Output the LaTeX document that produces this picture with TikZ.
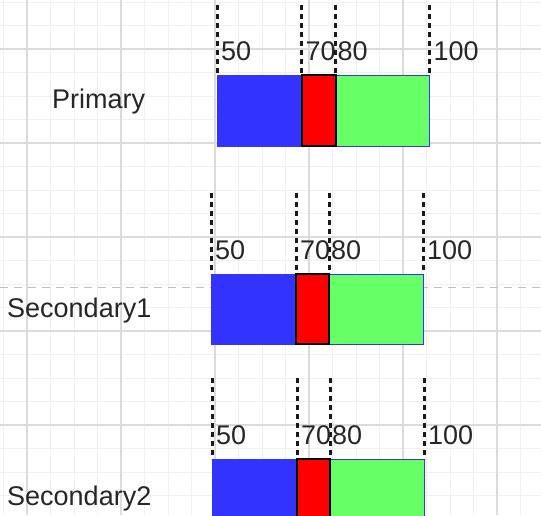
\documentclass[tikz,border=0pt]{standalone}
\usepackage{fontspec}
\setmainfont{Liberation Sans}
\begin{document}
\begin{tikzpicture}[x=1pt,y=-1pt,
  minorgrid/.style={draw=black!6,line width=1},
  majorgrid/.style={draw=black!14,line width=1.2},
  guide/.style={draw=black!25,line width=1,dash pattern=on 8 off 6},
  tick/.style={draw=black!90,line width=3,dash pattern=on 5 off 4},
  seg/.style={anchor=north west,inner sep=0,outer sep=0,minimum height=#1},
  bluebox/.style={fill=blue!80,draw=blue!80!white,line width=1},
  greenbox/.style={fill=green!60!white,draw=blue!80!white,line width=1},
  redbox/.style={fill=red,draw=black,line width=2},
  num/.style={anchor=base west,inner sep=0,text=black!85,font=\fontsize{27}{30}\selectfont},
  rowlabel/.style={anchor=base west,inner sep=0,text=black!85,font=\fontsize{27}{30}\selectfont}]
\useasboundingbox (0,0) rectangle (541,515);
\clip (0,0) rectangle (541,515);
\fill[white] (0,0) rectangle (541,515);
% grid
\foreach \i in {0,...,23} {
  \draw[minorgrid] (3.5+23.5*\i,0) -- (3.5+23.5*\i,515);
  \draw[minorgrid] (0,2+23.5*\i) -- (541,2+23.5*\i);
}
\foreach \i in {0,...,5} {
  \draw[majorgrid] (27+94*\i,0) -- (27+94*\i,515);
  \draw[majorgrid] (0,49+94*\i) -- (541,49+94*\i);
}
\coordinate (gl) at (0,287);
\coordinate (gr) at (541,287);
\draw[guide] (gl) -- (gr);
% row builder
\newcommand\mkrow[9]{%
  % #1 name, #2 x50, #3 x70, #4 x80, #5 x100, #6 top, #7 bottom, #8 dash top, #9 baseline
  \node[seg={#7-#6},minimum width={#3-#2},bluebox] (#1b) at (#2,#6) {};
  \node[seg={#7-#6},minimum width={#5-#4},greenbox] (#1g) at (#4,#6) {};
  \node[seg={#7-#6},minimum width={#4-#3},redbox] (#1r) at (#3,#6) {};
  \coordinate (#1t50) at (#2,#8);
  \coordinate (#1t70) at (#3,#8);
  \coordinate (#1t80) at (#4,#8);
  \coordinate (#1t100) at (#5,#8);
  \draw[tick] (#1t50) -- (#1b.north west);
  \draw[tick] (#1t70) -- (#1r.north west);
  \draw[tick] (#1t80) -- (#1r.north east);
  \draw[tick] (#1t100) -- (#1g.north east);
  \node[num] (#1n50) at (#2+4,#9) {50};
  \node[num] (#1n70) at (#3+4,#9) {70};
  \node[num] (#1n80) at (#4+2,#9) {80};
  \node[num] (#1n100) at (#5+4,#9) {100};
}
\mkrow{p}{217}{301.5}{335.5}{429.5}{75}{146}{5}{60}
\mkrow{s}{211}{296}{329}{423}{274}{344}{193}{259}
\mkrow{t}{212}{297}{330}{424}{459}{540}{378}{444}
\node[rowlabel] (lp) at (52,108) {Primary};
\node[rowlabel] (ls) at (7,317) {Secondary1};
\node[rowlabel] (lt) at (7,505) {Secondary2};
\end{tikzpicture}
\end{document}
